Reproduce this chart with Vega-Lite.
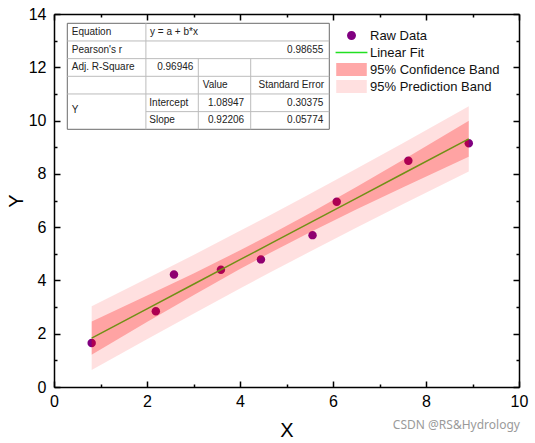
{
  "$schema": "https://vega.github.io/schema/vega-lite/v6.json",
  "width": 465,
  "height": 373,
  "autosize": {"type": "none"},
  "padding": {"left": 54, "top": 14, "right": 16, "bottom": 56},
  "background": "white",
  "config": {"view": {"stroke": null}, "font": "Liberation Sans",
    "legend": {"orient": "none", "legendX": 291, "legendY": 15, "title": null, "padding": 0,
      "symbolSize": 169, "labelFont": "Liberation Sans", "labelFontSize": 13, "labelColor": "#111",
      "labelOffset": 12, "rowPadding": 3, "symbolStrokeWidth": 0}},
  "title": {"text": "CSDN @RS&Hydrology", "orient": "bottom", "anchor": "end", "fontSize": 12, "font": "Noto Sans", "color": "#9a9a9a", "fontWeight": "normal", "offset": -20, "dx": -8},
  "datasets": {
    "points": [
      {"x": 0.81, "y": 1.65}, {"x": 2.19, "y": 2.84}, {"x": 2.58, "y": 4.22},
      {"x": 3.59, "y": 4.40}, {"x": 4.45, "y": 4.79}, {"x": 5.56, "y": 5.70},
      {"x": 6.08, "y": 6.95}, {"x": 7.62, "y": 8.49}, {"x": 8.92, "y": 9.15}
    ],
    "fit": [
      {"x": 0.81, "fit": 1.836, "cl": 1.211, "cu": 2.461, "pl": 0.637, "pu": 3.035},
      {"x": 2.0, "fit": 2.934, "cl": 2.437, "cu": 3.431, "pl": 1.796, "pu": 4.072},
      {"x": 3.0, "fit": 3.856, "cl": 3.448, "cu": 4.264, "pl": 2.754, "pu": 4.958},
      {"x": 4.0, "fit": 4.778, "cl": 4.426, "cu": 5.130, "pl": 3.695, "pu": 5.861},
      {"x": 4.644, "fit": 5.372, "cl": 5.031, "cu": 5.713, "pl": 4.293, "pu": 6.451},
      {"x": 5.5, "fit": 6.161, "cl": 5.800, "cu": 6.522, "pl": 5.076, "pu": 7.246},
      {"x": 6.5, "fit": 7.083, "cl": 6.658, "cu": 7.508, "pl": 5.975, "pu": 8.191},
      {"x": 7.5, "fit": 8.005, "cl": 7.487, "cu": 8.523, "pl": 6.858, "pu": 9.152},
      {"x": 8.92, "fit": 9.314, "cl": 8.638, "cu": 9.990, "pl": 8.087, "pu": 10.541}
    ],
    "tableBox": [{"c0": 0, "c1": 10, "r0": 0, "r1": 6}],
    "tableLines": [
      {"c0": 0, "c1": 10, "r0": 1, "r1": 1},
      {"c0": 0, "c1": 10, "r0": 2, "r1": 2},
      {"c0": 0, "c1": 10, "r0": 3, "r1": 3},
      {"c0": 0, "c1": 10, "r0": 4, "r1": 4},
      {"c0": 3, "c1": 10, "r0": 5, "r1": 5},
      {"c0": 3, "c1": 3, "r0": 0, "r1": 6},
      {"c0": 5, "c1": 5, "r0": 2, "r1": 6},
      {"c0": 7, "c1": 7, "r0": 2, "r1": 6}
    ],
    "tableLeft": [
      {"t": "Equation", "c": 0.17, "r": 0.5},
      {"t": "y = a + b*x", "c": 3.16, "r": 0.5},
      {"t": "Pearson's r", "c": 0.17, "r": 1.5},
      {"t": "Adj. R-Square", "c": 0.17, "r": 2.5},
      {"t": "Value", "c": 5.17, "r": 3.5},
      {"t": "Intercept", "c": 3.13, "r": 4.5},
      {"t": "Slope", "c": 3.13, "r": 5.5},
      {"t": "Y", "c": 0.17, "r": 4.9}
    ],
    "tableRight": [
      {"t": "0.98655", "c": 9.77, "r": 1.5},
      {"t": "0.96946", "c": 4.81, "r": 2.5},
      {"t": "Standard Error", "c": 9.8, "r": 3.5},
      {"t": "1.08947", "c": 6.75, "r": 4.5},
      {"t": "0.30375", "c": 9.77, "r": 4.5},
      {"t": "0.92206", "c": 6.75, "r": 5.5},
      {"t": "0.05774", "c": 9.77, "r": 5.5}
    ]
  },
  "layer": [
    {
      "resolve": {"axis": {"x": "independent", "y": "independent"}},
      "layer": [
        {
          "data": {"name": "points"},
          "mark": {"type": "point", "filled": true, "size": 150, "opacity": 1},
          "encoding": {
            "x": {"field": "x", "type": "quantitative",
              "scale": {"domain": [0, 10], "nice": false, "zero": false},
              "axis": {"orient": "bottom", "values": [0,1,2,3,4,5,6,7,8,9,10], "grid": false,
                "labelExpr": "datum.value % 2 === 0 ? datum.label : ''",
                "tickSize": {"condition": {"test": "datum.value % 2 === 0", "value": -6}, "value": -3},
                "domainColor": "#000", "domainWidth": 1.5, "tickColor": "#000", "tickWidth": 1.5,
                "labelFont": "Liberation Sans", "labelFontSize": 16, "labelColor": "#000", "labelPadding": 12,
                "labelFlush": false, "labelOverlap": false,
                "title": "X", "titleFont": "Liberation Sans", "titleFontSize": 20, "titleFontWeight": "normal", "titleColor": "#000", "titlePadding": 8}},
            "y": {"field": "y", "type": "quantitative",
              "scale": {"domain": [0, 14], "nice": false, "zero": false},
              "axis": {"orient": "left", "values": [0,1,2,3,4,5,6,7,8,9,10,11,12,13,14], "grid": false,
                "labelExpr": "datum.value % 2 === 0 ? datum.label : ''",
                "tickSize": {"condition": {"test": "datum.value % 2 === 0", "value": -6}, "value": -3},
                "domainColor": "#000", "domainWidth": 1.5, "tickColor": "#000", "tickWidth": 1.5,
                "labelFont": "Liberation Sans", "labelFontSize": 16, "labelColor": "#000", "labelPadding": 14,
                "labelFlush": false, "labelOverlap": false,
                "title": "Y", "titleFont": "Liberation Sans", "titleFontSize": 20, "titleFontWeight": "normal", "titleColor": "#000", "titlePadding": 2}},
            "color": {"datum": "Raw Data", "type": "nominal",
              "scale": {"domain": ["Raw Data", "Linear Fit", "95% Confidence Band", "95% Prediction Band"],
                        "range": ["#800080", "#22E022", "#FFA8A8", "#FFE0E0"]}},
            "shape": {"datum": "Raw Data", "type": "nominal",
              "scale": {"domain": ["Raw Data", "Linear Fit", "95% Confidence Band", "95% Prediction Band"],
                        "range": ["M0,-0.69A0.69,0.69,0,1,1,0,0.69A0.69,0.69,0,1,1,0,-0.69Z",
                                  "M-2.45,-0.12L2.45,-0.12L2.45,0.12L-2.45,0.12Z",
                                  "M-2.35,-1L2.35,-1L2.35,1L-2.35,1Z",
                                  "M-2.35,-1L2.35,-1L2.35,1L-2.35,1Z"]}}
          }
        },
        {
          "data": {"name": "fit"},
          "mark": {"type": "line", "strokeWidth": 1.5, "color": "#22E022"},
          "encoding": {
            "x": {"field": "x", "type": "quantitative",
              "axis": {"orient": "top", "values": [0,1,2,3,4,5,6,7,8,9,10], "grid": false, "labels": false, "title": null,
                "tickSize": {"condition": {"test": "datum.value % 2 === 0", "value": -6}, "value": -3},
                "domainColor": "#000", "domainWidth": 1.5, "tickColor": "#000", "tickWidth": 1.5}},
            "y": {"field": "fit", "type": "quantitative",
              "axis": {"orient": "right", "values": [0,1,2,3,4,5,6,7,8,9,10,11,12,13,14], "grid": false, "labels": false, "title": null,
                "tickSize": {"condition": {"test": "datum.value % 2 === 0", "value": -6}, "value": -3},
                "domainColor": "#000", "domainWidth": 1.5, "tickColor": "#000", "tickWidth": 1.5}}
          }
        },
        {
          "data": {"name": "fit"},
          "mark": {"type": "area", "color": "#FF0000", "opacity": 0.12},
          "encoding": {
            "x": {"field": "x", "type": "quantitative", "axis": null},
            "y": {"field": "cu", "type": "quantitative", "axis": null},
            "y2": {"field": "pu"}
          }
        },
        {
          "data": {"name": "fit"},
          "mark": {"type": "area", "color": "#FF0000", "opacity": 0.12},
          "encoding": {
            "x": {"field": "x", "type": "quantitative", "axis": null},
            "y": {"field": "pl", "type": "quantitative", "axis": null},
            "y2": {"field": "cl"}
          }
        },
        {
          "data": {"name": "fit"},
          "mark": {"type": "area", "color": "#FF0000", "opacity": 0.36},
          "encoding": {
            "x": {"field": "x", "type": "quantitative", "axis": null},
            "y": {"field": "cl", "type": "quantitative", "axis": null},
            "y2": {"field": "cu"}
          }
        }
      ]
    },
    {
      "layer": [
        {
          "data": {"name": "tableBox"},
          "mark": {"type": "rect", "fill": "white", "stroke": "#6b6b6b", "strokeWidth": 1},
          "encoding": {
            "x": {"field": "c0", "type": "quantitative", "scale": {"domain": [0, 10], "range": [13.3, 275.3], "nice": false, "zero": false}, "axis": null},
            "x2": {"field": "c1"},
            "y": {"field": "r0", "type": "quantitative", "scale": {"domain": [0, 6], "range": [9.3, 115.3], "nice": false, "zero": false}, "axis": null},
            "y2": {"field": "r1"}
          }
        },
        {
          "data": {"name": "tableLines"},
          "mark": {"type": "rule", "stroke": "#bcbcbc", "strokeWidth": 1},
          "encoding": {
            "x": {"field": "c0", "type": "quantitative", "axis": null},
            "x2": {"field": "c1"},
            "y": {"field": "r0", "type": "quantitative", "axis": null},
            "y2": {"field": "r1"}
          }
        },
        {
          "data": {"name": "tableLeft"},
          "mark": {"type": "text", "align": "left", "baseline": "middle", "font": "Liberation Sans", "fontSize": 10, "color": "#222"},
          "encoding": {
            "x": {"field": "c", "type": "quantitative", "axis": null},
            "y": {"field": "r", "type": "quantitative", "axis": null},
            "text": {"field": "t"}
          }
        },
        {
          "data": {"name": "tableRight"},
          "mark": {"type": "text", "align": "right", "baseline": "middle", "font": "Liberation Sans", "fontSize": 10, "color": "#222"},
          "encoding": {
            "x": {"field": "c", "type": "quantitative", "axis": null},
            "y": {"field": "r", "type": "quantitative", "axis": null},
            "text": {"field": "t"}
          }
        }
      ]
    }
  ],
  "resolve": {"scale": {"x": "independent", "y": "independent"}}
}
